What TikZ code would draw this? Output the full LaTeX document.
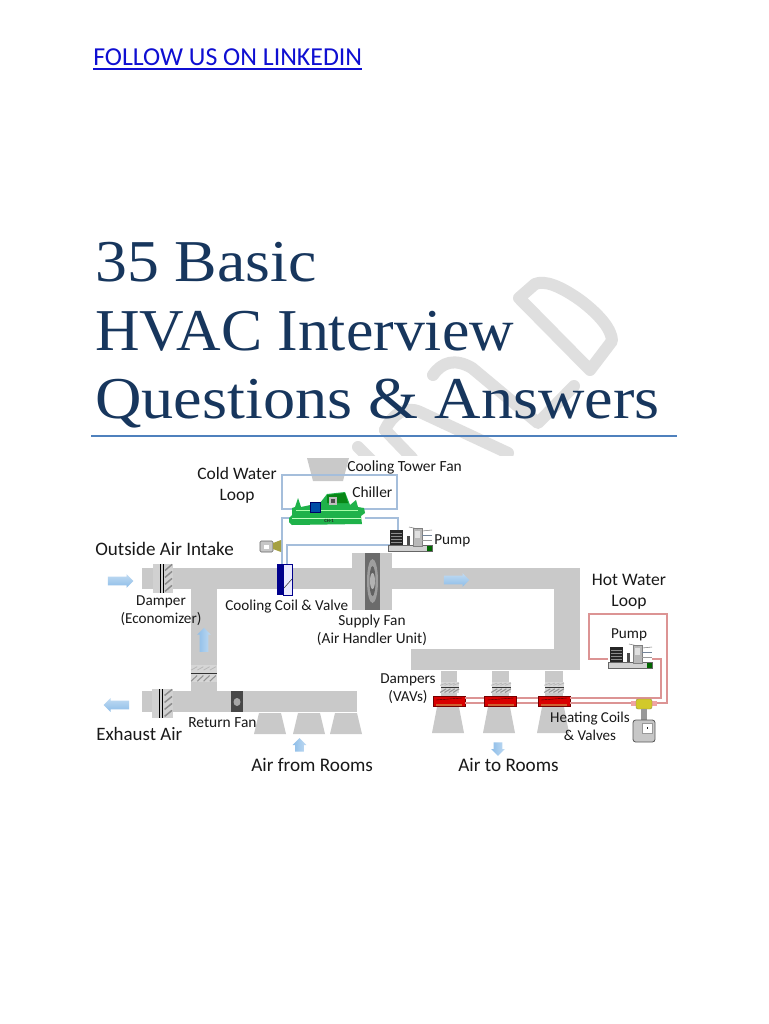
\documentclass[tikz,border=0pt]{standalone}
\usepackage{fontspec}
\setmainfont{Carlito}
\newfontfamily\titlefonta[FakeStretch=1.075]{Liberation Serif}
\newfontfamily\titlefontb[FakeStretch=1.04]{Liberation Serif}
\newfontfamily\titlefontc[FakeStretch=1.084]{Liberation Serif}
\usetikzlibrary{shapes.arrows,shapes.geometric}
\definecolor{duct}{HTML}{C9C9C9}
\definecolor{wm}{HTML}{DFDFDF}
\definecolor{navy}{HTML}{17365D}
\definecolor{rulec}{HTML}{4F81BD}
\definecolor{linkc}{HTML}{0F0FD2}
\definecolor{pipeblue}{HTML}{A5BEDB}
\definecolor{pipered}{HTML}{DC9494}
\definecolor{chgreen}{HTML}{1FB24A}
\definecolor{arrowc}{HTML}{8DBDE8}
\newcommand{\sz}[1]{\fontsize{#1}{1.2\dimexpr#1pt\relax}\selectfont}
\newcommand{\bodyrule}{\makebox[6pt]{\rule{0pt}{6pt}}}
\tikzset{
  ductfill/.style={fill=duct,draw=none},
  lab/.style={inner sep=0pt,align=center,text=black!90,anchor=center},
  basel/.style={inner sep=0pt,text=black!90,anchor=base west},
  titlel/.style={inner sep=0pt,anchor=base west,text=navy},
  pipeb/.style={draw=pipeblue,line width=.9pt},
  piper/.style={draw=pipered,line width=1.05pt},
  wmark/.style={draw=wm,line width=9pt,line cap=round,line join=round},
  hblock/.style={single arrow,inner sep=0pt,minimum height=19pt,single arrow head extend=1.9pt,top color=arrowc!55!white,bottom color=arrowc,draw=none},
  vblock/.style={single arrow,inner sep=0pt,single arrow head extend=1.9pt,left color=arrowc,right color=arrowc!55!white,draw=none},
  coilbox/.style={draw=red!45!black,line width=.4pt,fill=red!85!black,inner sep=0pt,minimum width=24pt,minimum height=7.5pt},
}
% vertical damper: x1,y1,x2,y2
\newcommand{\vdamp}[4]{
  \fill[black!18] (#1,#2) rectangle (#3,#4);
  \foreach \k in {0.12,0.36,0.6,0.84}{
    \draw[black!45,line width=1.1pt] ({#1+0.6*(#3-#1)},{#2+\k*(#4-#2)+3}) -- ({#3-1},{#2+\k*(#4-#2)-3});
  }
  \draw[black,line width=.55pt] ({#1+0.37*(#3-#1)},#2) -- ({#1+0.37*(#3-#1)},#4);
  \draw[black,line width=.55pt] ({#1+0.5*(#3-#1)},#2) -- ({#1+0.5*(#3-#1)},#4);
}
% horizontal damper
\newcommand{\hdamp}[4]{
  \fill[black!16] (#1,#2) rectangle (#3,#4);
  \foreach \k in {0.12,0.36,0.6,0.84}{
    \draw[black!42,line width=.8pt] ({#1+\k*(#3-#1)-3},{#2+0.95*(#4-#2)}) -- ({#1+\k*(#3-#1)+3},{#2+0.62*(#4-#2)});
    \draw[black!28,line width=.6pt] ({#1+\k*(#3-#1)-3},{#2+0.3*(#4-#2)}) -- ({#1+\k*(#3-#1)+3},{#2+0.1*(#4-#2)});
  }
  \draw[black!80,line width=.5pt] (#1,{#2+0.48*(#4-#2)}) -- (#3,{#2+0.48*(#4-#2)});
}
% pump with top-left at x,y
\newcommand{\pumpdraw}[2]{
  \begin{scope}[shift={(#1,#2)}]
    \draw[black!60,fill=black!18,line width=.4pt] (0,19) rectangle (44,25);
    \fill[black!85] (2,4) rectangle (15,19);
    \foreach \yy in {7,10,13,16}{\draw[black!45,line width=.35pt] (3,\yy) -- (14,\yy);}
    \fill[white] (15,9) rectangle (25,19);
    \fill[black!70] (19,10) rectangle (22,19);
    \draw[black!50,fill=black!28,line width=.2pt] (25,2) rectangle (34,20);
    \fill[black!12] (27,5) rectangle (32,12);
    \draw[black!50,line width=.4pt] (21,1) -- (30,3);
    \draw[black!50,line width=.4pt] (34,5) -- (44,4);
    \draw[pipeblue!70!black,line width=.6pt] (34,9) -- (44,9);
    \draw[black!40,line width=.5pt] (34,14) -- (44,14);
    \fill[green!40!black] (39,20) rectangle (44,25);
  \end{scope}
}
\begin{document}
\begin{tikzpicture}[x=0.75pt,y=-0.75pt]
\useasboundingbox (0,0) rectangle (768,1024);
\fill[white] (0,0) rectangle (768,1024);
% watermark
\begin{scope}
  \clip (0,0) rectangle (768,455);
  \draw[wmark] (519,298) -- (535,284) .. controls (545,280) and (560,286) .. (580,300) .. controls (600,315) and (612,330) .. (612,341) -- (590,370) -- cycle;
  \draw[wmark] (433,375) .. controls (442,362) and (455,358) .. (472,368) -- (538,423) -- (574,386);
  \draw[wmark] (385,430) .. controls (392,415) and (405,405) .. (420,412) -- (508,453);
  \draw[wmark] (385,430) -- (412,458);
  \draw[wmark] (358,447) -- (376,465);
\end{scope}
% link
\node[inner sep=0pt,anchor=base west,text=linkc,font=\sz{19.4}] (link) at (93,65) {FOLLOW US ON LINKEDIN};
\coordinate (ulA) at (93,69); \coordinate (ulB) at (362,69);
\draw[linkc,line width=1pt] (ulA) -- (ulB);
% title
\node[titlel,font=\titlefonta\fontsize{44.5}{50}\selectfont] (t1) at (95,281) {35 Basic};
\node[titlel,font=\titlefontb\fontsize{44.5}{50}\selectfont] (t2) at (95,350) {HVAC Interview};
\node[titlel,font=\titlefontc\fontsize{44.5}{50}\selectfont] (t3) at (95,418) {Questions \& Answers};
\coordinate (rA) at (91,436); \coordinate (rB) at (677,436);
\draw[rulec,line width=1.1pt] (rA) -- (rB);
% ducts
\path[ductfill] (142,568) rectangle (580,589);
\path[ductfill] (554,568) rectangle (580,670);
\path[ductfill] (411,649) rectangle (580,670);
\path[ductfill] (191,589) rectangle (217,691);
\path[ductfill] (142,691) rectangle (357,712);
\path[ductfill] (352,553) rectangle (392,610);
\path[ductfill] (441,671) rectangle (457,708);
\path[ductfill] (492,671) rectangle (509,708);
\path[ductfill] (545,671) rectangle (563,708);
% supply diffusers
\path[ductfill] (437,707) -- (459,707) -- (464,733) -- (432,733) -- cycle;
\path[ductfill] (488,707) -- (510,707) -- (515,733) -- (483,733) -- cycle;
\path[ductfill] (542,707) -- (564,707) -- (569,733) -- (537,733) -- cycle;
% return diffusers
\path[ductfill] (259,713) -- (281,713) -- (286,734) -- (254,734) -- cycle;
\path[ductfill] (298,713) -- (320,713) -- (325,734) -- (293,734) -- cycle;
\path[ductfill] (335,713) -- (357,713) -- (362,734) -- (330,734) -- cycle;
% cooling tower fan
\path[ductfill] (307,458) -- (349,458) -- (343,481) -- (313,481) -- cycle;
% fans
\fill[black!58] (365,553) rectangle (380,610);
\fill[black!38] (372.5,581) ellipse (5.5 and 22);
\fill[black!62] (372.5,581) ellipse (3 and 15);
\fill[black!30] (372.5,581) ellipse (2.5 and 8);
\fill[black!72] (231,691) rectangle (243,712);
\fill[black!35] (237,702) ellipse (3.5 and 4);
% dampers
\vdamp{153}{564}{173}{593}
\vdamp{152}{689}{173}{718}
\hdamp{191}{665}{217}{682}
\hdamp{441}{682}{459}{693}
\hdamp{492}{682}{511}{693}
\hdamp{545}{682}{564}{693}
% pipes: cold loop
\coordinate (chUL) at (292,509); \coordinate (chUR) at (364,509);
\coordinate (chLL) at (290,518); \coordinate (chLR) at (365,518);
\coordinate (a1) at (282,475); \coordinate (a2) at (397,475);
\coordinate (cA) at (282,590); \coordinate (cB) at (287,590);
\coordinate (pcT) at (398,530); \coordinate (pcL) at (390,545);
\draw[pipeb] (chUL) -| (a1) -- (a2) |- (chUR);
\draw[pipeb] (chLL) -| (cA);
\draw[pipeb] (chLR) -| (pcT);
\draw[pipeb] (pcL) -| (cB);
% coil
\node[draw=none,fill=blue!55!black,inner sep=0pt,minimum width=4.6pt,minimum height=23pt] (coilD) at (280,579.5) {};
\node[draw=blue!55!black,fill=blue!8,line width=.5pt,inner sep=0pt,minimum width=6.5pt,minimum height=23pt] (coilL) at (288,579.5) {};
\coordinate (cs1) at (284,588); \coordinate (cs2) at (292,579);
\draw[black!80,line width=.4pt] (cs1) -- (cs2);
% chiller
\fill[chgreen] (289,518) -- (292,515) -- (292,508) -- (295,507) -- (298,498) -- (301,507) -- (320,503) -- (327,494) -- (345,492) -- (350,505) -- (356,500) -- (358,507) -- (364,508) -- (365,513) -- (361,516) -- (362,524) -- (292,525) -- (289,522) -- cycle;
\fill[green!45!black!70!chgreen] (327,495) -- (345,493) -- (348,503) -- (327,503) -- cycle;
\draw[green!25!white,line width=.5pt] (292,518) -- (362,518);
\draw[green!35!white,line width=.4pt] (296,510) -- (358,510);
\draw[blue!40!black,fill=blue!50!black!70!cyan,line width=.2pt] (310,502) rectangle (320,512);
\fill[black!25] (329,497) rectangle (337,505);
\fill[black!70] (331,499) rectangle (335,503);
\node[inner sep=0pt,text=black!85,font=\bfseries\fontsize{3.6}{4}\selectfont] (chtxt) at (329,520.5) {CH-1};
% cold valve
\draw[black!60,fill=black!22,line width=.4pt,rounded corners=1pt] (260,541) rectangle (273,552);
\fill[white] (264,545) rectangle (269,549);
\fill[black!40!yellow] (273,543) -- (281,540) -- (281,552) -- (273,549) -- cycle;
% pumps
\pumpdraw{388}{526}
\pumpdraw{608}{643}
% hot loop
\coordinate (hpL) at (608,659); \coordinate (hpR) at (652,659);
\coordinate (h1) at (589,614); \coordinate (h2) at (667,614);
\coordinate (vR) at (652,703); \coordinate (h3) at (661,698);
\coordinate (vL) at (640,703);
\draw[piper] (hpL) -| (h1) -- (h2) |- (vR);
\node[coilbox] (c1) at (449,701) {};
\node[coilbox] (c2) at (500.5,701) {};
\node[coilbox] (c3) at (554,701) {};
\draw[piper] (hpR) -| (h3) -- (c3.east |- h3);
\draw[piper] (vL) -- (c3.east |- vL);
\draw[piper] (c3.west |- h3) -- (c2.east |- h3);
\draw[piper] (c3.west |- vL) -- (c2.east |- vL);
\draw[piper] (c2.west |- h3) -- (c1.east |- h3);
\draw[piper] (c2.west |- vL) -- (c1.east |- vL);
\foreach \cn/\cx in {449/449,500.5/500.5,554/554}{
  \fill[brown!75!red] (\cx-13,703.5) rectangle (\cx+13,705.5);
  \draw[black!70!red,line width=.3pt] (\cx-13,700) -- (\cx+13,698);
}
% hot valve and actuator
\fill[pipered!70!red!60!white] (631,701) rectangle (657,706);
\draw[black!50!yellow,fill=yellow!80!black,line width=.3pt,rounded corners=1.5pt] (636,699) rectangle (652,709);
\fill[black!40] (641,709) rectangle (647,720);
\draw[black!65,fill=black!22,line width=.6pt,rounded corners=2pt] (633,720) rectangle (655,742);
\draw[black!40,fill=white,line width=.3pt] (642,723) rectangle (652,733);
\fill[black!85] (646.5,727) rectangle (648,729);
% arrows
\node[hblock] (ar1) at (118.5,581) {\bodyrule};
\node[hblock] (ar2) at (454.5,580) {\bodyrule};
\node[hblock,shape border rotate=180] (ar3) at (118.5,705) {\bodyrule};
\node[vblock,shape border rotate=90,minimum height=18pt] (ar4) at (204,642) {\bodyrule};
\node[vblock,shape border rotate=90,minimum height=10pt] (ar5) at (299.5,747) {\bodyrule};
\node[vblock,shape border rotate=270,minimum height=10pt] (ar6) at (498,747) {\bodyrule};
% labels
\node[lab,font=\sz{13.1}] (l1) at (237,485) {Cold Water\\Loop};
\node[basel,font=\sz{11.6}] (l2) at (347,471) {Cooling Tower Fan};
\node[basel,font=\sz{11.6}] (l3) at (352,497) {Chiller};
\node[basel,font=\sz{11.4}] (l4) at (434,544) {Pump};
\node[basel,font=\sz{14.3}] (l5) at (95,555) {Outside Air Intake};
\node[lab,font=\sz{11.4}] (l6) at (161,611) {Damper\\(Economizer)};
\node[basel,font=\sz{11.4}] (l7) at (225,610) {Cooling Coil \& Valve};
\node[lab,font=\sz{11.5}] (l8) at (372,630) {Supply Fan\\(Air Handler Unit)};
\node[lab,font=\sz{13.2}] (l9) at (629,592) {Hot Water\\Loop};
\node[lab,font=\sz{11.4}] (l10) at (629,635) {Pump};
\node[lab,font=\sz{11.4}] (l11) at (408,689) {Dampers\\(VAVs)};
\node[lab,font=\sz{11.3}] (l12) at (590,726) {Heating Coils\\\& Valves};
\node[basel,font=\sz{11.6}] (l13) at (188,727) {Return Fan};
\node[basel,font=\sz{14.2}] (l14) at (96,740) {Exhaust Air};
\node[basel,font=\sz{14.4}] (l15) at (251,771) {Air from Rooms};
\node[basel,font=\sz{14.4}] (l16) at (458,771) {Air to Rooms};
\end{tikzpicture}
\end{document}
